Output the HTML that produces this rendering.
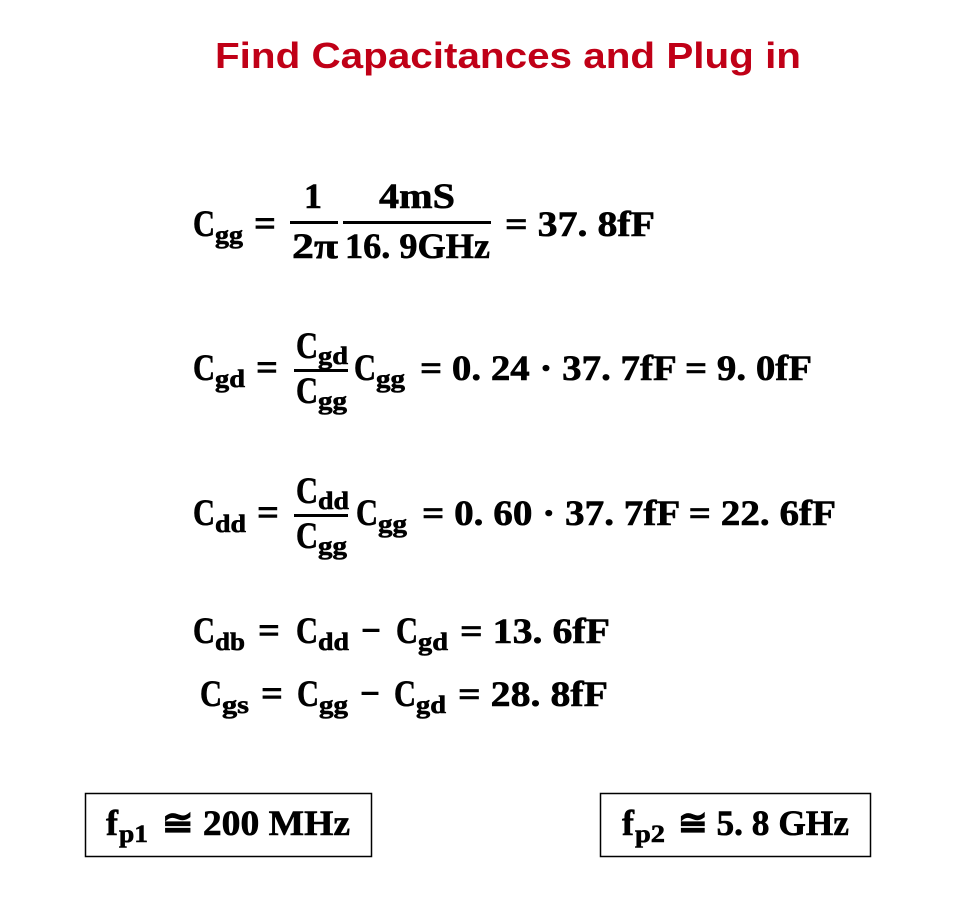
<!DOCTYPE html>
<html><head><meta charset="utf-8"><style>
html,body{margin:0;padding:0;background:#fff;width:980px;height:913px;overflow:hidden}
svg text{font-family:"Liberation Serif",serif;font-weight:bold;fill:#000;stroke:#000;stroke-width:0.6}
svg text.t{font-family:"Liberation Sans",sans-serif;fill:#c00017;stroke:none}
</style></head><body>
<svg width="980" height="913" viewBox="0 0 980 913" xmlns="http://www.w3.org/2000/svg">
<text class="t" x="508" y="68" font-size="36" text-anchor="middle" textLength="586" lengthAdjust="spacingAndGlyphs">Find Capacitances and Plug in</text>

<!-- line 1 -->
<text x="193" y="236" font-size="37" textLength="22" lengthAdjust="spacingAndGlyphs">C</text>
<text x="215" y="243" font-size="25" textLength="28" lengthAdjust="spacingAndGlyphs">gg</text>
<text x="254" y="236" font-size="38" textLength="22" lengthAdjust="spacingAndGlyphs">=</text>
<rect x="290" y="221" width="48" height="3"/>
<text x="313" y="208" font-size="36" text-anchor="middle">1</text>
<text x="292" y="258" font-size="36" textLength="46" lengthAdjust="spacingAndGlyphs">2π</text>
<rect x="343" y="221" width="148" height="3"/>
<text x="417" y="208" font-size="36" text-anchor="middle" textLength="76" lengthAdjust="spacingAndGlyphs">4mS</text>
<text x="345" y="258" font-size="36" textLength="145" lengthAdjust="spacingAndGlyphs">16. 9GHz</text>
<text x="505" y="236" font-size="36" textLength="150" lengthAdjust="spacingAndGlyphs">= 37. 8fF</text>

<!-- line 2 -->
<text x="193" y="380" font-size="37" textLength="22" lengthAdjust="spacingAndGlyphs">C</text>
<text x="215" y="387" font-size="25" textLength="30" lengthAdjust="spacingAndGlyphs">gd</text>
<text x="256" y="380" font-size="38" textLength="22" lengthAdjust="spacingAndGlyphs">=</text>
<rect x="294" y="369" width="54" height="3"/>
<text x="296" y="358" font-size="37" textLength="22" lengthAdjust="spacingAndGlyphs">C</text>
<text x="318" y="364" font-size="25" textLength="30" lengthAdjust="spacingAndGlyphs">gd</text>
<text x="296" y="403" font-size="37" textLength="22" lengthAdjust="spacingAndGlyphs">C</text>
<text x="318" y="409" font-size="25" textLength="29" lengthAdjust="spacingAndGlyphs">gg</text>
<text x="354" y="380" font-size="37" textLength="22" lengthAdjust="spacingAndGlyphs">C</text>
<text x="376" y="387" font-size="25" textLength="29" lengthAdjust="spacingAndGlyphs">gg</text>
<text x="420" y="380" font-size="36" textLength="392" lengthAdjust="spacingAndGlyphs">= 0. 24 · 37. 7fF = 9. 0fF</text>

<!-- line 3 -->
<text x="193" y="525" font-size="37" textLength="22" lengthAdjust="spacingAndGlyphs">C</text>
<text x="215" y="532" font-size="25" textLength="31" lengthAdjust="spacingAndGlyphs">dd</text>
<text x="257" y="525" font-size="38" textLength="22" lengthAdjust="spacingAndGlyphs">=</text>
<rect x="294" y="514" width="54" height="3"/>
<text x="296" y="503" font-size="37" textLength="22" lengthAdjust="spacingAndGlyphs">C</text>
<text x="318" y="509" font-size="25" textLength="31" lengthAdjust="spacingAndGlyphs">dd</text>
<text x="296" y="548" font-size="37" textLength="22" lengthAdjust="spacingAndGlyphs">C</text>
<text x="318" y="554" font-size="25" textLength="29" lengthAdjust="spacingAndGlyphs">gg</text>
<text x="356" y="525" font-size="37" textLength="22" lengthAdjust="spacingAndGlyphs">C</text>
<text x="378" y="532" font-size="25" textLength="29" lengthAdjust="spacingAndGlyphs">gg</text>
<text x="422" y="525" font-size="36" textLength="414" lengthAdjust="spacingAndGlyphs">= 0. 60 · 37. 7fF = 22. 6fF</text>

<!-- line 4 -->
<text x="193" y="643" font-size="37" textLength="22" lengthAdjust="spacingAndGlyphs">C</text>
<text x="215" y="650" font-size="25" textLength="30" lengthAdjust="spacingAndGlyphs">db</text>
<text x="258" y="643" font-size="38" textLength="22" lengthAdjust="spacingAndGlyphs">=</text>
<text x="296" y="643" font-size="37" textLength="22" lengthAdjust="spacingAndGlyphs">C</text>
<text x="318" y="650" font-size="25" textLength="31" lengthAdjust="spacingAndGlyphs">dd</text>
<text x="361" y="643" font-size="38" textLength="20" lengthAdjust="spacingAndGlyphs">−</text>
<text x="396" y="643" font-size="37" textLength="22" lengthAdjust="spacingAndGlyphs">C</text>
<text x="418" y="650" font-size="25" textLength="30" lengthAdjust="spacingAndGlyphs">gd</text>
<text x="460" y="643" font-size="36" textLength="150" lengthAdjust="spacingAndGlyphs">= 13. 6fF</text>

<!-- line 5 -->
<text x="200" y="706" font-size="37" textLength="22" lengthAdjust="spacingAndGlyphs">C</text>
<text x="222" y="713" font-size="25" textLength="27" lengthAdjust="spacingAndGlyphs">gs</text>
<text x="261" y="706" font-size="38" textLength="22" lengthAdjust="spacingAndGlyphs">=</text>
<text x="297" y="706" font-size="37" textLength="22" lengthAdjust="spacingAndGlyphs">C</text>
<text x="319" y="713" font-size="25" textLength="29" lengthAdjust="spacingAndGlyphs">gg</text>
<text x="360" y="706" font-size="38" textLength="20" lengthAdjust="spacingAndGlyphs">−</text>
<text x="394" y="706" font-size="37" textLength="22" lengthAdjust="spacingAndGlyphs">C</text>
<text x="416" y="713" font-size="25" textLength="30" lengthAdjust="spacingAndGlyphs">gd</text>
<text x="458" y="706" font-size="36" textLength="150" lengthAdjust="spacingAndGlyphs">= 28. 8fF</text>

<!-- boxes -->
<rect x="85.5" y="793.5" width="286" height="63" fill="none" stroke="#000" stroke-width="1.5"/>
<text x="106" y="835" font-size="36">f</text>
<text x="119" y="842" font-size="25" textLength="29" lengthAdjust="spacingAndGlyphs">p1</text>
<text x="162" y="835" font-size="36" textLength="188" lengthAdjust="spacingAndGlyphs">≅ 200 MHz</text>

<rect x="600.5" y="793.5" width="270" height="63" fill="none" stroke="#000" stroke-width="1.5"/>
<text x="622" y="835" font-size="36">f</text>
<text x="635" y="842" font-size="25" textLength="30" lengthAdjust="spacingAndGlyphs">p2</text>
<text x="678" y="835" font-size="36" textLength="171" lengthAdjust="spacingAndGlyphs">≅ 5. 8 GHz</text>
</svg>
</body></html>
